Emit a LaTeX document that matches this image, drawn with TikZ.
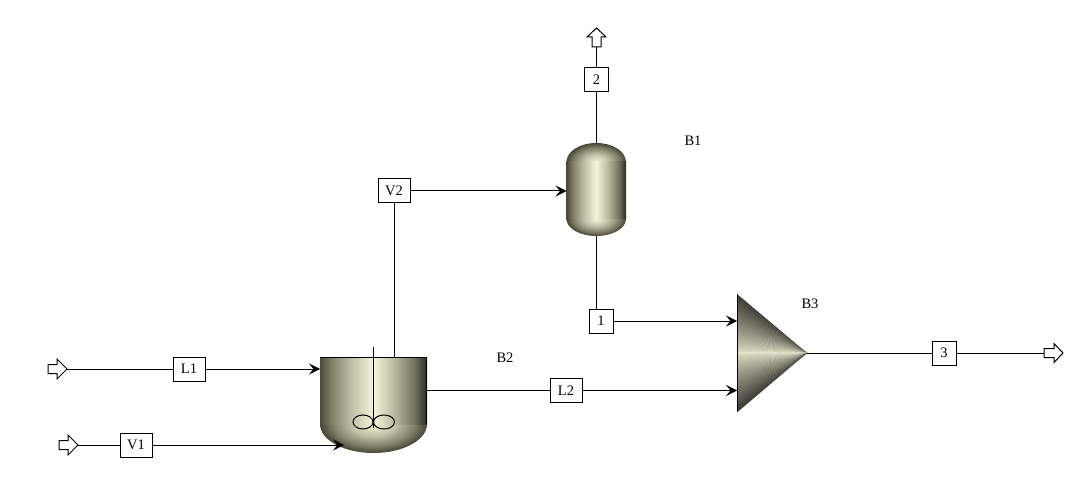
\documentclass[tikz,border=0pt]{standalone}
\usepackage{fontspec}
\setmainfont{Liberation Serif}
\usetikzlibrary{arrows.meta}
\pgfdeclarehorizontalshading{vessel}{100bp}{
  rgb(0bp)=(0.29,0.29,0.23);
  rgb(25bp)=(0.29,0.29,0.23);
  rgb(31bp)=(0.52,0.52,0.43);
  rgb(40bp)=(0.76,0.76,0.66);
  rgb(50bp)=(0.96,0.96,0.86);
  rgb(60bp)=(0.72,0.72,0.62);
  rgb(69bp)=(0.45,0.45,0.37);
  rgb(75bp)=(0.16,0.16,0.12);
  rgb(100bp)=(0.16,0.16,0.12)}
\pgfdeclareradialshading{dome}{\pgfpoint{0bp}{0bp}}{
  rgb(0bp)=(0.96,0.96,0.86);
  rgb(10bp)=(0.76,0.76,0.66);
  rgb(19bp)=(0.50,0.50,0.41);
  rgb(25bp)=(0.27,0.27,0.21);
  rgb(50bp)=(0.27,0.27,0.21)}
\tikzset{
  x=1pt,y=-1pt,
  stream/.style={line width=1pt,draw=black},
  flow/.style={stream,-{Stealth[length=11pt,width=11pt,inset=4.5pt]}},
  tagbox/.style={draw=black,fill=white,line width=1pt,minimum height=24pt,inner sep=0pt,font=\fontsize{14.5}{14.5}\selectfont},
  tagnarrow/.style={tagbox,minimum width=24pt},
  tagwide/.style={tagbox,minimum width=32pt},
  blocklabel/.style={inner sep=0pt,font=\fontsize{14.5}{14.5}\selectfont},
  hollow/.style={draw=black,fill=white,line width=1pt,line join=miter},
  edge/.style={draw=black,line width=1pt}
}
\begin{document}
\begin{tikzpicture}
\useasboundingbox (0,0) rectangle (1084,494);
\fill[white] (0,0) rectangle (1084,494);

% --- reactor B2 ---
\shade[shading=dome] (373.5,424) ellipse (53.5 and 29);
\shade[shading=vessel] (320,357) rectangle (427,424);
\draw[edge] (320,357) -- (427,357);
\draw[line width=1.6pt,draw=black] (426.4,357) -- (426.4,424);
\coordinate (rTop) at (394,357);
\coordinate (rLeft) at (320,369);
\coordinate (rLow) at (344,445);
\coordinate (rRight) at (427,390.5);
\draw[edge] (373,347) -- (373,428);
\draw[edge] (363,422) ellipse (10 and 7);
\draw[edge] (384,422) ellipse (10.5 and 7);

% --- drum B1 ---
\shade[shading=dome] (596.25,162) ellipse (29.75 and 19);
\shade[shading=dome] (596.25,219) ellipse (29.75 and 17);
\shade[shading=vessel] (566.5,162) rectangle (626,219);
\coordinate (dTop) at (596.5,143);
\coordinate (dBot) at (596.5,236);
\coordinate (dLeft) at (566.5,191);

% --- mixer B3 ---
\foreach \i in {0,...,58}{
  \pgfmathsetmacro{\vv}{abs(\i-29)/29}
  \pgfmathsetmacro{\sv}{0.89-0.65*\vv^0.8}
  \pgfmathsetmacro{\bv}{\sv*0.88}
  \definecolor{slice}{rgb}{\sv,\sv,\bv}
  \fill[slice] (807,353) -- (737,{294+\i*2}) -- (737,{296.4+\i*2}) -- cycle;
}
\draw[edge] (737,294) -- (737,411);
\coordinate (mTip) at (807,353);
\coordinate (mUp) at (737,321);
\coordinate (mLow) at (737,390.5);

% --- stream tags ---
\node[tagwide] (L1) at (189,369) {L1};
\node[tagwide] (V1) at (136,445) {V1};
\node[tagwide] (V2) at (394,191) {V2};
\node[tagwide] (L2) at (566,390.5) {L2};
\node[tagnarrow] (t2) at (596.5,80) {2};
\node[tagnarrow] (t1) at (601,321) {1};
\node[tagnarrow] (t3) at (944,353) {3};

% --- block labels ---
\node[blocklabel] (B1) at (693,141) {B1};
\node[blocklabel] (B2) at (505,358) {B2};
\node[blocklabel] (B3) at (810,304) {B3};

% --- feed and product ports ---
\coordinate (inL) at (67,369);
\coordinate (inV) at (78,445);
\coordinate (outTop) at (596.5,47);
\coordinate (outRight) at (1044,353);
\draw[hollow] (inL) -- ++(-10,-10) -- ++(0,5.5) -- ++(-9,0) -- ++(0,9) -- ++(9,0) -- ++(0,5.5) -- cycle;
\draw[hollow] (inV) -- ++(-10,-10) -- ++(0,5.5) -- ++(-9,0) -- ++(0,9) -- ++(9,0) -- ++(0,5.5) -- cycle;
\draw[hollow] (outTop) -- ++(-4.5,0) -- ++(0,-10) -- ++(-5,0) -- ++(9.5,-9) -- ++(9.5,9) -- ++(-5,0) -- ++(0,10) -- cycle;
\draw[hollow] (outRight) -- ++(0,-4.5) -- ++(10,0) -- ++(0,-5) -- ++(9,9.5) -- ++(-9,9.5) -- ++(0,-5) -- ++(-10,0) -- cycle;

% --- connectors ---
\draw[stream] (inL) -- (L1);
\draw[flow] (L1) -- (rLeft);
\draw[stream] (inV) -- (V1);
\draw[flow] (V1) -- (rLow);
\draw[stream] (rTop) -- (V2);
\draw[flow] (V2) -- (dLeft);
\draw[stream] (dTop) -- (t2);
\draw[stream] (t2) -- (outTop);
\draw[stream] (dBot) -- (t1.north -| dBot);
\draw[flow] (t1) -- (mUp);
\draw[stream] (rRight) -- (L2);
\draw[flow] (L2) -- (mLow);
\draw[stream] (mTip) -- (t3);
\draw[stream] (t3) -- (outRight);
\end{tikzpicture}
\end{document}
